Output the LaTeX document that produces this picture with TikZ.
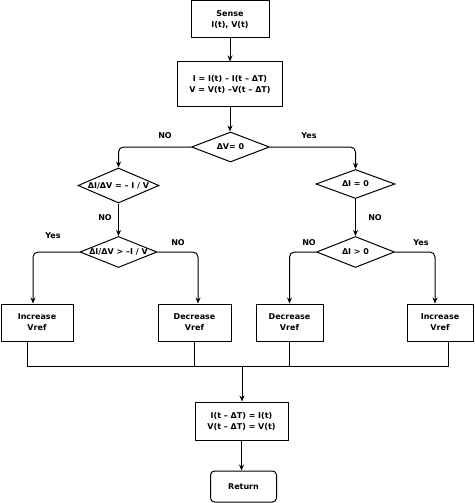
\documentclass[tikz,border=0pt]{standalone}
\usepackage{fontspec}
\setmainfont{DejaVu Sans}
\usetikzlibrary{arrows.meta, positioning, shapes.geometric}

\begin{document}
\begin{tikzpicture}[x=1pt, y=-1pt, >={Stealth[length=6pt, width=5pt]}, line width=1pt,
  every node/.style={font=\fontsize{8}{11}\selectfont\bfseries},
  procbox/.style={draw, rectangle, align=center, inner sep=0pt, minimum height=37pt},
  decision/.style={draw, diamond, inner sep=0pt},
  elbow/.style={->, rounded corners=5pt}]
  \useasboundingbox (0,0) rectangle (474,503);
  % Process boxes
  \node[procbox, minimum width=78pt] (sense) at (230,19.5) {Sense\\I(t), V(t)};
  \node[procbox, minimum width=105pt, minimum height=44pt] (diff) at (230,84) {I = I(t) – I(t – ΔT)\\V = V(t) –V(t – ΔT)};
  % Decisions
  \node[decision, minimum width=78pt, minimum height=30pt] (dv) at (230.5,147) {\makebox[0pt]{ΔV= 0}};
  \node[decision, minimum width=81pt, minimum height=35pt] (dlv) at (118.5,185.5) {\makebox[0pt]{ΔI/ΔV = – I / V}};
  \node[decision, minimum width=79pt, minimum height=29pt] (di) at (355.5,184) {\makebox[0pt]{ΔI = 0}};
  \node[decision, minimum width=77pt, minimum height=31pt] (dgt) at (118.5,252) {\makebox[0pt]{ΔI/ΔV > –I / V}};
  \node[decision, minimum width=78pt, minimum height=31pt] (digt) at (355.5,252) {\makebox[0pt]{ΔI > 0}};
  % Vref updates
  \node[procbox, minimum width=72pt] (incl) at (37,322.5) {Increase\\Vref};
  \node[procbox, minimum width=73pt] (decl) at (194.5,322.5) {Decrease\\Vref};
  \node[procbox, minimum width=67pt] (decr) at (289.5,322.5) {Decrease\\Vref};
  \node[procbox, minimum width=66pt] (incr) at (440,322.5) {Increase\\Vref};
  \node[procbox, minimum width=93pt, minimum height=38pt] (store) at (241.5,421) {I(t – ΔT) = I(t)\\V(t – ΔT) = V(t)};
  \node[procbox, minimum width=66pt, minimum height=31pt, rounded corners=4pt] (ret) at (243.5,486.5) {Return};
  \coordinate (merge) at (242,366);
  % Branch labels
  \node (nodv) at (165,136) {NO};
  \node (yesdv) at (309,136) {Yes};
  \node (nodlv) at (105,218) {NO};
  \node (nodi) at (375,218) {NO};
  \node (yesdgt) at (53,236) {Yes};
  \node (nodgt) at (178,243) {NO};
  \node (nodigt) at (309,243) {NO};
  \node (yesdigt) at (421,243) {Yes};
  % Connectors
  \draw[->] (sense) -- (diff);
  \draw[->] (diff) -- (diff.south |- dv.north);
  \draw[elbow] (dv.west) -| (dlv.north);
  \draw[elbow] (dv.east) -| (di.north);
  \draw[->] (dlv) -- (dgt);
  \draw[->] (di) -- (digt);
  \draw[elbow] (dgt.west) -| ([xshift=-4pt]incl.north);
  \draw[elbow] (dgt.east) -| ([xshift=3.5pt]decl.north);
  \draw[elbow] (digt.west) -| (decr.north);
  \draw[elbow] (digt.east) -| ([xshift=-5pt]incr.north);
  \draw ([xshift=-10pt]incl.south) |- ([xshift=8pt]incr.south |- merge) -- ([xshift=8pt]incr.south);
  \draw (decl.south) -- (decl.south |- merge);
  \draw (decr.south) -- (decr.south |- merge);
  \draw[->] (merge) -- (merge |- store.north);
  \draw[->] (store.south) -- (store.south |- ret.north);
\end{tikzpicture}
\end{document}
